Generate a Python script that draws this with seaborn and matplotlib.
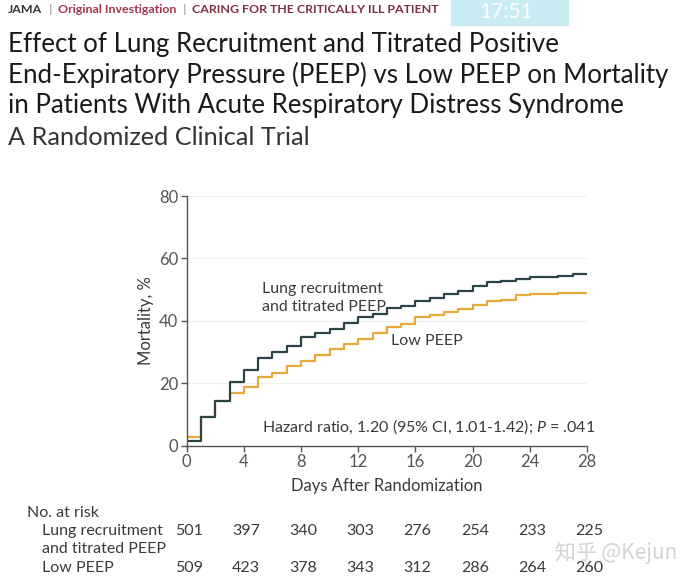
import matplotlib
matplotlib.use("Agg")
import matplotlib.pyplot as plt
import seaborn as sns
import pandas as pd

# step data (cumulative mortality, %)
days = list(range(0, 29))
lung_mort = [1.6, 9.1, 14.4, 20.5, 24.2, 28.0, 30.0, 32.0, 34.9, 36.0, 37.4, 39.4,
             41.3, 42.1, 44.0, 44.9, 46.2, 47.3, 48.6, 49.5, 51.0, 52.3, 52.8, 53.3,
             54.0, 54.0, 54.4, 55.0, 55.0]
low_mort = [2.8, 9.1, 14.4, 16.8, 18.9, 22.1, 23.2, 25.6, 27.1, 29.0, 30.9, 32.4,
            34.1, 36.0, 38.1, 39.0, 41.1, 41.8, 42.7, 43.9, 45.0, 46.2, 46.7, 48.2,
            48.5, 48.5, 48.8, 49.0, 49.0]

risk_days = [0, 4, 8, 12, 16, 20, 24, 28]
risk_lung = [501, 397, 340, 303, 276, 254, 233, 225]
risk_low = [509, 423, 378, 343, 312, 286, 264, 260]

groups = ["Lung recruitment and titrated PEEP", "Low PEEP"]
colors = {"Lung recruitment and titrated PEEP": "#2c4347", "Low PEEP": "#e9a93a"}

df = pd.concat([
    pd.DataFrame({"day": days, "mort": lung_mort, "group": groups[0]}),
    pd.DataFrame({"day": days, "mort": low_mort, "group": groups[1]}),
])

sns.set_theme(style="white")
plt.rcParams["font.family"] = ["Lato", "DejaVu Sans"]
plt.rcParams["mathtext.fontset"] = "custom"
plt.rcParams["mathtext.it"] = "Lato:italic"

fig = plt.figure(figsize=(6.89, 5.87), dpi=100)
ax = fig.add_axes([0.271, 0.241, 0.581, 0.425])

txt = "#3a3a3a"
for yv in [20, 40, 60, 80]:
    ax.axhline(yv, color="#efefef", lw=0.8, zorder=0)

# low PEEP first so the dark line sits on top
sns.lineplot(data=df, x="day", y="mort", hue="group", hue_order=groups[::-1],
             palette=colors, drawstyle="steps-post", lw=1.6, legend=False,
             ax=ax, estimator=None)

ax.set_xlim(0, 28)
ax.set_ylim(0, 80)
ax.set_xticks(risk_days)
ax.set_yticks([0, 20, 40, 60, 80])
sns.despine(ax=ax)
for s in ["left", "bottom"]:
    ax.spines[s].set_color("#555555")
    ax.spines[s].set_linewidth(1.0)
ax.tick_params(axis="both", colors="#555555", labelcolor="#555555", labelsize=12,
               direction="out", length=4, width=1, bottom=True, left=True, pad=2)
ax.set_xlabel("Days After Randomization", fontsize=12, color=txt, labelpad=6)
ax.set_ylabel("Mortality, %", fontsize=12, color=txt, labelpad=4)

ax.text(5.3, 50.2, "Lung recruitment", fontsize=11.5, color=txt, va="center")
ax.text(5.3, 44.4, "and titrated PEEP", fontsize=11.5, color=txt, va="center")
ax.text(14.3, 33.6, "Low PEEP", fontsize=11.5, color=txt, va="center")
ax.text(5.3, 6.0, "Hazard ratio, 1.20 (95% CI, 1.01-1.42); $P$ = .041",
        fontsize=11.5, color=txt, va="center")

# header, pieces laid out one after another
fig.canvas.draw()
renderer = fig.canvas.get_renderer()
header = [("JAMA", "bold", "#333333"), ("  |  ", "normal", "#888888"),
          ("Original Investigation", "bold", "#a3364c"), ("  |  ", "normal", "#888888"),
          ("CARING FOR THE CRITICALLY ILL PATIENT", "bold", "#7a3040")]
x0 = 0.012
for s, w, c in header:
    t = fig.text(x0, 0.983, s, fontsize=8.9, weight=w, color=c, va="center")
    x0 += t.get_window_extent(renderer).width / fig.bbox.width

fig.patches.append(plt.Rectangle((0.654, 0.958), 0.171, 0.042, transform=fig.transFigure,
                                 color="#c8ecf2", zorder=0))
fig.text(0.735, 0.979, "17:51", fontsize=15, color="white", ha="center", va="center")

title_lines = ["Effect of Lung Recruitment and Titrated Positive",
               "End-Expiratory Pressure (PEEP) vs Low PEEP on Mortality",
               "in Patients With Acute Respiratory Distress Syndrome"]
for i, line in enumerate(title_lines):
    fig.text(0.012, 0.925 - i * 0.052, line, fontsize=18.6, color="#1a1a1a", va="center")
fig.text(0.012, 0.766, "A Randomized Clinical Trial", fontsize=18.2, color="#333333",
         va="center")

# risk table
fig.text(0.039, 0.126, "No. at risk", fontsize=11.5, color=txt, va="center")
fig.text(0.061, 0.095, "Lung recruitment", fontsize=11.5, color=txt, va="center")
fig.text(0.061, 0.065, "and titrated PEEP", fontsize=11.5, color=txt, va="center")
fig.text(0.061, 0.032, "Low PEEP", fontsize=11.5, color=txt, va="center")
for d, a, b in zip(risk_days, risk_lung, risk_low):
    xf = ax.transData.transform((d, 0))[0] / fig.bbox.width
    fig.text(xf + 0.003, 0.095, str(a), fontsize=11.5, color=txt, ha="center", va="center")
    fig.text(xf + 0.003, 0.032, str(b), fontsize=11.5, color=txt, ha="center", va="center")

fig.text(0.805, 0.058, "知乎 @Kejun", fontsize=15, color="#cfcfcf", va="center",
         family=["Noto Sans CJK SC", "DejaVu Sans"], alpha=0.9)

fig.savefig("out.png", dpi=100, facecolor="white")
